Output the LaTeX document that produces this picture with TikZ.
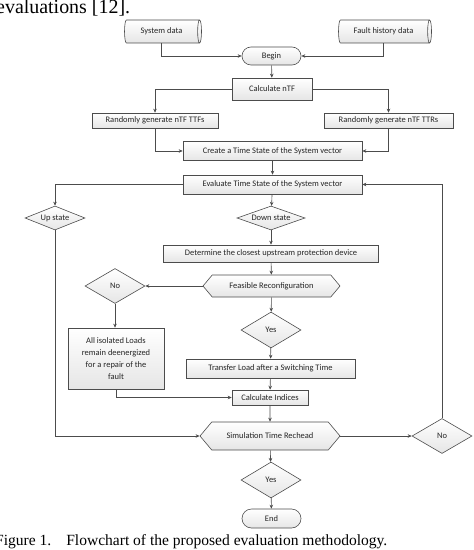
\documentclass[tikz,border=0pt]{standalone}
\usepackage{fontspec}
\setmainfont{Liberation Serif}
\newfontfamily\chartfont{Carlito}
\usetikzlibrary{shapes.geometric,shapes.misc,shapes.symbols,arrows.meta}

\begin{document}
\begin{tikzpicture}[x=1bp, y=-1bp,
    every node/.style={font=\chartfont\fontsize{8.5}{10}\selectfont, text=black!85},
    proc/.style={draw=black!70, line width=0.6pt, top color=white, bottom color=gray!20, inner sep=1pt},
    decide/.style={diamond, aspect=3, inner sep=0pt, draw=black!70, line width=0.6pt, top color=white, bottom color=gray!20},
    prep/.style={signal, signal to=west and east, signal pointer angle=100, inner sep=1pt, draw=black!70, line width=0.6pt, top color=white, bottom color=gray!20},
    term/.style={rounded rectangle, inner sep=1pt, draw=black!70, line width=0.6pt, top color=white, bottom color=gray!20},
    store/.style={cylinder, aspect=0.42, inner sep=1pt, draw=black!70, line width=0.6pt, top color=white, bottom color=gray!20},
    flow/.style={draw=black!70, line width=0.6pt, -{Stealth[length=4bp,width=3.5bp]}},
    serif/.style={font=\rmfamily, text=black}]
    \useasboundingbox (0,0) rectangle (474,550);

    % Surrounding text
    \node[serif, font=\rmfamily\fontsize{20}{22}\selectfont, anchor=base west, inner sep=0pt] (prevtext) at (-4,13.5) {evaluations [12].};
    \node[serif, font=\rmfamily\fontsize{15.6}{18}\selectfont, anchor=base west, inner sep=0pt] (caption) at (-5,545) {Figure 1.\hspace{15bp}Flowchart of the proposed evaluation methodology.};

    % Inputs
    \node[store, minimum height=77bp, minimum width=23bp] (sysdata) at (161.5,31.5) {System data};
    \node[store, minimum height=93bp, minimum width=23bp] (faultdata) at (383.5,31.5) {Fault history data};
    \node[term, minimum width=61bp, minimum height=18bp] (begin) at (271.5,56) {Begin};

    % Time to failure / repair
    \node[proc, minimum width=80bp, minimum height=22bp] (calcntf) at (272,89) {Calculate nTF};
    \node[proc, minimum width=126bp, minimum height=15bp] (genttf) at (155,120.5) {Randomly generate nTF TTFs};
    \node[proc, minimum width=129bp, minimum height=15bp] (genttr) at (388.5,120.5) {Randomly generate nTF TTRs};
    \node[proc, minimum width=179bp, minimum height=19bp] (create) at (272.5,151) {Create a Time State of the System vector};
    \node[proc, minimum width=179bp, minimum height=19bp] (evaluate) at (272.5,184.5) {Evaluate Time State of the System vector};

    % States
    \node[decide, minimum width=60bp, minimum height=24bp] (upstate) at (55,218) {Up state};
    \node[decide, minimum width=68bp, minimum height=24bp] (downstate) at (271,218) {Down state};
    \node[proc, minimum width=215bp, minimum height=17bp] (protect) at (271,253.5) {Determine the closest upstream protection device};

    % Reconfiguration
    \node[prep, minimum width=137bp, minimum height=22bp] (feasible) at (271.5,286) {Feasible Reconfiguration};
    \node[decide, minimum width=60bp, minimum height=35bp] (nofeas) at (115,286) {No};
    \node[decide, minimum width=60bp, minimum height=36bp] (yesfeas) at (271,330) {Yes};
    \node[proc, minimum width=96bp, minimum height=61bp, align=center, font=\chartfont\fontsize{8.5}{12.3}\selectfont] (isolated) at (116,358.5) {All isolated Loads\\remain deenergized\\for a repair of the\\fault};
    \node[proc, minimum width=169bp, minimum height=19bp] (transfer) at (270.5,368.5) {Transfer Load after a Switching Time};
    \node[proc, minimum width=76bp, minimum height=15bp] (indices) at (270,397.5) {Calculate Indices};

    % Simulation loop
    \node[prep, minimum width=140bp, minimum height=28bp] (simtime) at (270,436) {Simulation Time Rechead};
    \node[decide, minimum width=60bp, minimum height=35bp] (nosim) at (442,436) {No};
    \node[decide, minimum width=60bp, minimum height=36bp] (yessim) at (271,480) {Yes};
    \node[term, minimum width=61bp, minimum height=19bp] (finish) at (271.5,518.5) {End};

    % Arrows
    \draw[flow] (sysdata.south) |- (begin.west);
    \draw[flow] (faultdata.south) |- (begin.east);
    \draw[flow] (begin) -- (calcntf);
    \draw[flow] (calcntf.west) -| (genttf.north);
    \draw[flow] (calcntf.east) -| (genttr.north);
    \draw[flow] (genttf.south) |- (create.west);
    \draw[flow] (genttr.south) |- (create.east);
    \draw[flow] (create) -- (evaluate);
    \draw[flow] (evaluate.west) -| (upstate.north);
    \draw[flow] (evaluate) -- (downstate);
    \draw[flow] (downstate) -- (protect);
    \draw[flow] (protect) -- (feasible);
    \draw[flow] (feasible.west) -- (nofeas.east);
    \draw[flow] (feasible) -- (yesfeas);
    \draw[flow] (yesfeas) -- (transfer);
    \draw[flow] (nofeas.south) -- (nofeas.south |- isolated.north);
    \draw[flow] (transfer) -- (indices);
    \draw[flow] (isolated.south) |- (indices.west);
    \draw[flow] (indices) -- (simtime);
    \draw[flow] (upstate.south) |- (simtime.west);
    \draw[flow] (simtime.east) -- (nosim.west);
    \draw[flow] (nosim.north) |- (evaluate.east);
    \draw[flow] (simtime) -- (yessim);
    \draw[flow] (yessim) -- (finish);
\end{tikzpicture}
\end{document}
